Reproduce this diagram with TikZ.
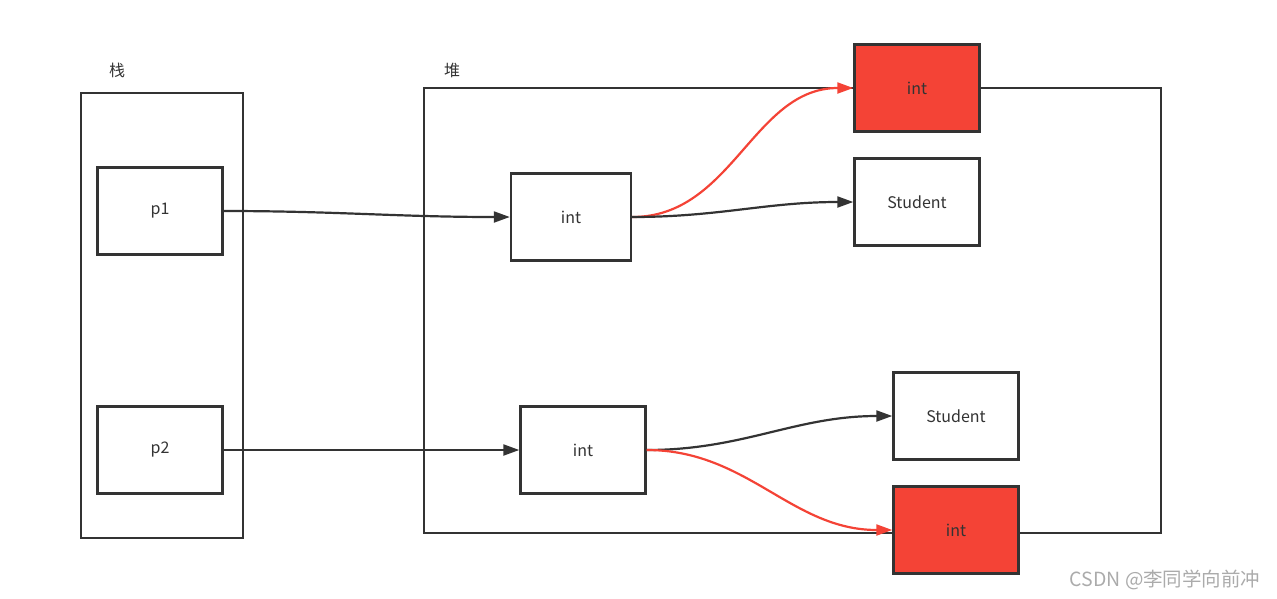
\documentclass[tikz,border=0pt]{standalone}
\usepackage{fontspec}
\setmainfont{Noto Sans CJK SC}
\usetikzlibrary{positioning, arrows.meta}
\definecolor{dark}{HTML}{333333}
\definecolor{boxred}{HTML}{F44336}
\definecolor{mark}{HTML}{ABABAB}

\tikzset{
    box/.style={draw=dark, line width=2.4pt, minimum width=125pt, minimum height=87pt, inner sep=0pt, text=dark, font=\fontsize{16}{18}\selectfont},
    redbox/.style={box, fill=boxred},
    link/.style={color=dark, line width=2.2pt, -{Triangle[length=16pt,width=11pt]}},
    redlink/.style={link, color=boxred},
    lbl/.style={text=dark, font=\fontsize{16}{18}\selectfont}
}

\begin{document}
\begin{tikzpicture}[x=1pt, y=-1pt]
    \useasboundingbox (0,0) rectangle (1277,598);

    % stack
    \draw[draw=dark, line width=2.4pt] (81,93) rectangle (243,538);
    \node[lbl] (stack) at (117,70) {栈};
    \node[box] (p1) at (160,211) {p1};
    \node[box] (p2) at (160,450) {p2};

    % heap
    \draw[draw=dark, line width=2.4pt] (424,88) rectangle (1161,533);
    \node[lbl] (heap) at (452,70) {堆};
    \node[box, minimum width=120pt] (int1) at (571,217) {int};
    \node[box] (int2) at (583,450) {int};
    \node[redbox] (val1) at (917,88) {int};
    \node[box] (stu1) at (917,202) {Student};
    \node[box] (stu2) at (956,416) {Student};
    \node[redbox] (val2) at (956,530) {int};

    \draw[link] (p1.east) to[out=0, in=180] (int1.west);
    \draw[link] (p2.east) -- (int2.west);
    \draw[redlink] (int1.east) to[out=0, in=180] (val1.west);
    \draw[link] (int1.east) to[out=0, in=180] (stu1.west);
    \draw[link] (int2.east) to[out=0, in=180] (stu2.west);
    \draw[redlink] (int2.east) to[out=0, in=180] (val2.west);

    \node[text=mark, font=\fontsize{19.5}{21}\selectfont, anchor=east] (wm) at (1264,580) {CSDN @李同学向前冲};
\end{tikzpicture}
\end{document}
